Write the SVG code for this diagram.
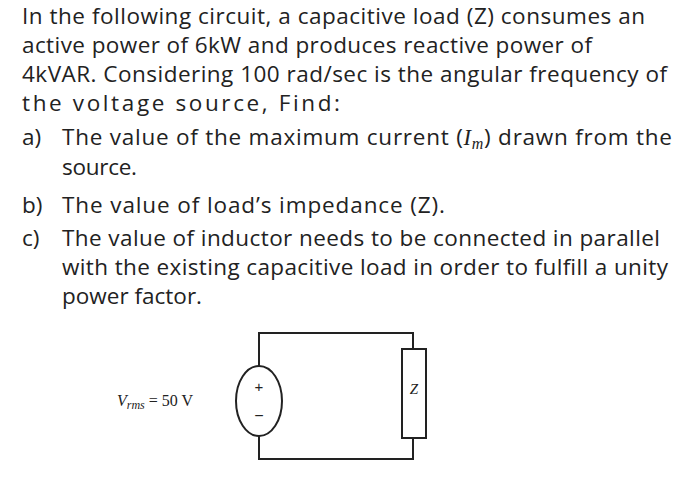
<svg xmlns="http://www.w3.org/2000/svg" width="700" height="477" viewBox="0 0 700 477">
<style>
.t{font-family:"Open Sans","Liberation Sans",sans-serif;font-size:22.5px;fill:#222}
.w{fill:none;stroke:#222;stroke-width:2}
.m{font-family:"Liberation Serif",serif;font-style:italic}
</style>
<rect width="700" height="477" fill="#fff"/>
<g id="text">
<text class="t" x="22" y="24" textLength="623" lengthAdjust="spacing">In the following circuit, a capacitive load (Z) consumes an</text>
<text class="t" x="22" y="53" textLength="570" lengthAdjust="spacing">active power of 6kW and produces reactive power of</text>
<text class="t" x="22" y="82" textLength="645" lengthAdjust="spacing">4kVAR. Considering 100 rad/sec is the angular frequency of</text>
<text class="t" x="22" y="111" textLength="318" lengthAdjust="spacing">the voltage source, Find:</text>
<text class="t" x="22" y="145">a)</text>
<text class="t" x="62" y="145" textLength="610" lengthAdjust="spacing">The value of the maximum current (<tspan class="m">I<tspan font-size="16" dy="4">m</tspan></tspan><tspan dy="-4">) drawn from the</tspan></text>
<text class="t" x="62" y="175" textLength="75" lengthAdjust="spacing">source.</text>
<text class="t" x="22" y="213">b)</text>
<text class="t" x="62" y="213" textLength="383" lengthAdjust="spacing">The value of load’s impedance (Z).</text>
<text class="t" x="22" y="246">c)</text>
<text class="t" x="62" y="246" textLength="598" lengthAdjust="spacing">The value of inductor needs to be connected in parallel</text>
<text class="t" x="62" y="275" textLength="606" lengthAdjust="spacing">with the existing capacitive load in order to fulfill a unity</text>
<text class="t" x="62" y="304" textLength="140" lengthAdjust="spacing">power factor.</text>
</g>
<g id="connectors">
<path class="w" d="M259 366 V333 H413 V349 M259 436 V459 H413 V438"/>
</g>
<g id="source">
<ellipse class="w" cx="259" cy="401" rx="23" ry="35"/>
<text x="259" y="392" text-anchor="middle" font-family="Liberation Sans,sans-serif" font-size="15" fill="#222">+</text>
<text x="259" y="421" text-anchor="middle" font-family="Liberation Sans,sans-serif" font-size="16" fill="#222">−</text>
<text x="117" y="406" font-family="Liberation Serif,serif" font-size="16" fill="#222"><tspan font-style="italic">V<tspan font-size="12" dy="3">rms</tspan></tspan><tspan dy="-3"> = 50 V</tspan></text>
</g>
<g id="load">
<rect class="w" x="402" y="349" width="24" height="89"/>
<text x="414" y="394" text-anchor="middle" font-family="Liberation Serif,serif" font-style="italic" font-size="15" fill="#222">Z</text>
</g>
</svg>
